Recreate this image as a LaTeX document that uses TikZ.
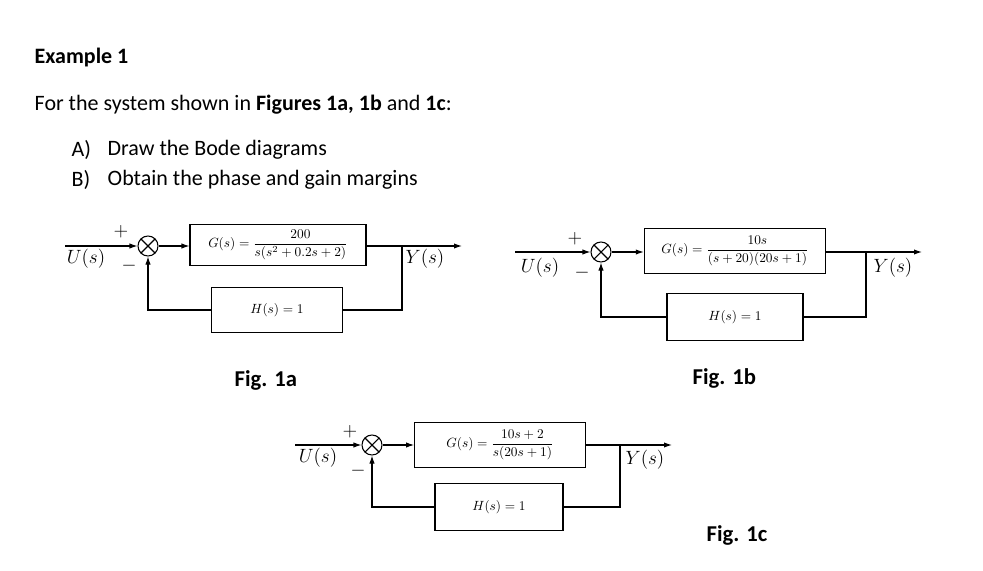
\documentclass[tikz,border=0pt]{standalone}
\usepackage{amsmath}
\usepackage{fontspec}
\setmainfont{Carlito}
\usetikzlibrary{arrows.meta}
\begin{document}
\begin{tikzpicture}[x=0.75pt,y=-0.75pt,
    blk/.style={draw,thick,minimum height=#1,inner sep=1pt,font=\normalsize},
    sum/.style={draw,thick,circle,minimum size=15pt,inner sep=0pt,
      path picture={\draw[thick] (path picture bounding box.north west)--(path picture bounding box.south east)
        (path picture bounding box.north east)--(path picture bounding box.south west);}},
    sig/.style={thick,-{Latex[length=6pt,width=4pt]}},
    ln/.style={thick},
    lab/.style={font=\Large},
    txt/.style={anchor=west,font=\fontsize{16.5}{18}\selectfont}]
\useasboundingbox (0,0) rectangle (983,571);
% text
\node[txt] at (30,58) {\textbf{Example 1}};
\node[txt] at (30,105) {For the system shown in \textbf{Figures 1a, 1b} and \textbf{1c}:};
\node[txt] at (67,150) {A)};
\node[txt] at (103,150) {Draw the Bode diagrams};
\node[txt] at (67,180) {B)};
\node[txt] at (103,180) {Obtain the phase and gain margins};
\node[txt,font=\fontsize{17}{19}\selectfont\bfseries] at (230,380) {Fig. 1a};
\node[txt,font=\fontsize{17}{19}\selectfont\bfseries] at (688,378) {Fig. 1b};
\node[txt,font=\fontsize{17}{19}\selectfont\bfseries] at (702,535) {Fig. 1c};
% Fig 1a
\coordinate (ua) at (65,246);
\node[sum] (sa) at (148,246) {};
\node[blk=31pt,minimum width=132pt] (ga) at (278,245) {$G(s)=\dfrac{200}{s(s^2+0.2s+2)}$};
\node[blk=34pt,minimum width=98pt] (ha) at (277,310) {$H(s)=1$};
\coordinate (ya) at (462,246);
\coordinate (ta) at (402,246);
\draw[sig] (ua) -- (sa);
\draw[sig] (sa) -- (sa -| ga.west);
\draw[sig] (ga.east |- ta) -- (ya);
\draw[ln] (ta) |- (ha.east);
\draw[sig] (ha.west) -| (sa.south);
\node[lab] at (86,259) {$U(s)$};
\node[lab] at (425,259) {$Y(s)$};
\node[lab] at (121,232) {$+$};
\node[lab] at (129,266) {$-$};
% Fig 1b
\coordinate (ub) at (515,252);
\node[sum] (sb) at (601,252) {};
\node[blk=34pt,minimum width=136pt] (gb) at (735,251) {$G(s)=\dfrac{10s}{(s+20)(20s+1)}$};
\node[blk=35pt,minimum width=102pt] (hb) at (735,317) {$H(s)=1$};
\coordinate (yb) at (922,252);
\coordinate (tb) at (866,252);
\draw[sig] (ub) -- (sb);
\draw[sig] (sb) -- (sb -| gb.west);
\draw[sig] (gb.east |- tb) -- (yb);
\draw[ln] (tb) |- (hb.east);
\draw[sig] (hb.west) -| (sb.south);
\node[lab] at (540,268) {$U(s)$};
\node[lab] at (893,268) {$Y(s)$};
\node[lab] at (575,239) {$+$};
\node[lab] at (582,273) {$-$};
% Fig 1c
\coordinate (uc) at (295,445);
\node[sum] (sc) at (372,445) {};
\node[blk=34pt,minimum width=128pt] (gc) at (500,445) {$G(s)=\dfrac{10s+2}{s(20s+1)}$};
\node[blk=35pt,minimum width=96pt] (hc) at (499,507) {$H(s)=1$};
\coordinate (yc) at (672,445);
\coordinate (tc) at (620,445);
\draw[sig] (uc) -- (sc);
\draw[sig] (sc) -- (sc -| gc.west);
\draw[sig] (gc.east |- tc) -- (yc);
\draw[ln] (tc) |- (hc.east);
\draw[sig] (hc.west) -| (sc.south);
\node[lab] at (318,458) {$U(s)$};
\node[lab] at (645,460) {$Y(s)$};
\node[lab] at (350,432) {$+$};
\node[lab] at (358,471) {$-$};
\end{tikzpicture}
\end{document}
